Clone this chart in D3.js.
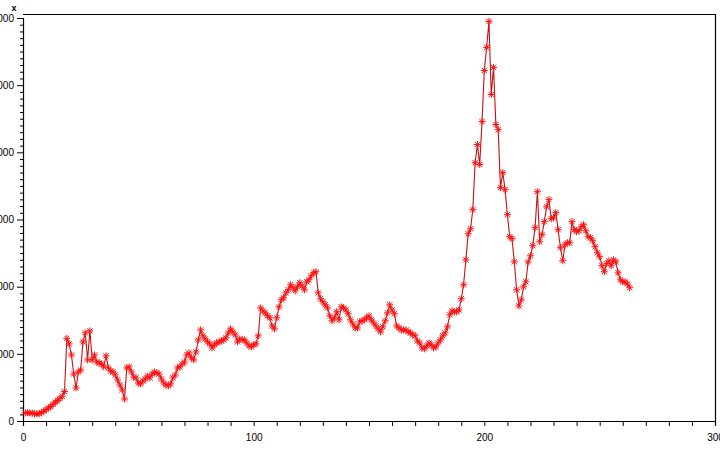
<!DOCTYPE html>
<html>
<head>
<meta charset="utf-8">
<script src="https://cdn.jsdelivr.net/npm/d3@7"></script>
<style>
  body { margin: 0; background: #fff; }
  svg { display: block; }
  text { font-family: "Liberation Sans", Arial, sans-serif; }
</style>
</head>
<body>
<svg></svg>
<script>
// series: y value for x = 1 .. n
const values = [
  600, 620, 600, 580, 550, 530, 540, 620, 720, 850,
  960, 1080, 1240, 1400, 1530, 1680, 1850, 2200, 6150, 5740,
  4920, 3500, 2460, 3650, 3800, 5890, 6560, 4550, 6710, 4550,
  4920, 4400, 4320, 4250, 4030, 4850, 3950, 3730, 3650, 3430,
  3060, 2680, 2310, 1640, 3950, 4030, 3650, 3280, 3210, 2830,
  2760, 2980, 3130, 3350, 3210, 3500, 3650, 3580, 3500, 3130,
  2830, 2680, 2610, 2760, 3210, 3430, 3950, 4030, 4250, 4400,
  4920, 5070, 4700, 4550, 5140, 6040, 6780, 6340, 6110, 5890,
  5740, 5440, 5670, 5810, 5890, 5960, 6040, 6190, 6560, 6860,
  6630, 6410, 5890, 6110, 6040, 6040, 5810, 5590, 5520, 5670,
  5740, 6340, 8420, 8200, 8050, 7830, 7680, 7080, 6860, 7680,
  8500, 9020, 9170, 9540, 9770, 10140, 9920, 9690, 9990, 10290,
  10060, 9770, 10360, 10510, 10810, 11030, 11110, 9540, 9100, 8870,
  8650, 8420, 7830, 7460, 7680, 8130, 7530, 8500, 8420, 8270,
  7980, 7530, 7230, 6930, 6930, 7380, 7460, 7530, 7680, 7830,
  7530, 7300, 7080, 6860, 6630, 7010, 7460, 8050, 8650, 8270,
  7980, 7080, 6930, 6780, 6780, 6780, 6630, 6560, 6410, 6340,
  5960, 5810, 5440, 5370, 5590, 5810, 5670, 5440, 5520, 5810,
  6040, 6340, 6560, 7010, 7900, 8200, 8130, 8130, 8270, 9100,
  10140, 12000, 13940, 14310, 15730, 19230, 20580, 19090, 22290, 26090,
  27810, 29750, 24300, 26320, 22070, 21690, 17370, 18490, 17220, 15360,
  13720, 13570, 11850, 9770, 8570, 9020, 9990, 10360, 11850, 12300,
  13050, 14390, 17070, 13340, 13870, 14840, 15950, 16480, 15060, 15130,
  15510, 14240, 12900, 11930, 13120, 13270, 13270, 14840, 14240, 14090,
  14160, 14460, 14610, 14160, 13720, 13640, 13420, 12970, 12520, 12230,
  11560, 11110, 11700, 11930, 11560, 12000, 11850, 11030, 10510, 10360,
  10360, 10210, 9920
];
const xTickLabels = [0, 100, 200, 300];
const yTickLabels = [0, 5000, 10000, 15000, 20000, 25000, 30000];
const yAxisLabel = "x";

const data = values.map((v, i) => ({ x: i + 1, y: v }));

const svgWidth = 720;
const svgHeight = 453;

const svg = d3.select("svg")
  .attr("width", svgWidth)
  .attr("height", svgHeight);

const xScale = d3.scaleLinear().domain([0, 300]).range([23, 715]);
const yScale = d3.scaleLinear().domain([0, 30000]).range([421, 18]);

// frame (top and right)
svg.append("path")
  .attr("d", `M23,14.5H715.5V421`)
  .attr("fill", "none")
  .attr("stroke", "#000")
  .attr("stroke-width", 1.2);

// x axis
const xAxis = svg.append("g")
  .attr("transform", "translate(0,421)")
  .call(d3.axisBottom(xScale)
    .tickValues(d3.range(0, 301, 10))
    .tickSize(5)
    .tickFormat((d) => xTickLabels.includes(d) ? d : ""));
xAxis.select(".domain").attr("stroke-width", 1.2);
xAxis.selectAll("text")
  .attr("font-size", 10)
  .attr("dy", "1.2em")
  .attr("fill", "#000");

// y axis: minor ticks every 500, labels every 5000
const yAxis = svg.append("g")
  .attr("transform", "translate(23,0)")
  .call(d3.axisLeft(yScale)
    .tickValues(yTickLabels)
    .tickSize(6)
    .tickPadding(3));
yAxis.select(".domain").attr("stroke-width", 1.2);
yAxis.selectAll("text")
  .attr("font-size", 10)
  .attr("fill", "#000");

svg.append("g")
  .attr("transform", "translate(23,0)")
  .call(d3.axisLeft(yScale)
    .tickValues(d3.range(0, 30001, 500).filter((d) => d % 5000 !== 0))
    .tickSize(3)
    .tickFormat(""))
  .select(".domain").remove();

svg.append("text")
  .attr("x", 14)
  .attr("y", 11)
  .attr("text-anchor", "middle")
  .attr("font-size", 9)
  .attr("font-weight", "bold")
  .attr("font-family", "DejaVu Serif, serif")
  .text(yAxisLabel);

const line = d3.line()
  .x((d) => xScale(d.x))
  .y((d) => yScale(d.y));

svg.append("path")
  .datum(data)
  .attr("fill", "none")
  .attr("stroke", "#c81010")
  .attr("stroke-width", 1.1)
  .attr("d", line);

// asterisk markers
const r = 3.5;
const star = `M0,${-r}V${r}M${-r},0H${r}M${-r * 0.75},${-r * 0.75}L${r * 0.75},${r * 0.75}M${-r * 0.75},${r * 0.75}L${r * 0.75},${-r * 0.75}`;

svg.append("g")
  .selectAll("path")
  .data(data)
  .join("path")
  .attr("transform", (d) => `translate(${xScale(d.x)},${yScale(d.y)})`)
  .attr("d", star)
  .attr("fill", "none")
  .attr("stroke", "#ff1010")
  .attr("stroke-width", 1);
</script>
</body>
</html>
